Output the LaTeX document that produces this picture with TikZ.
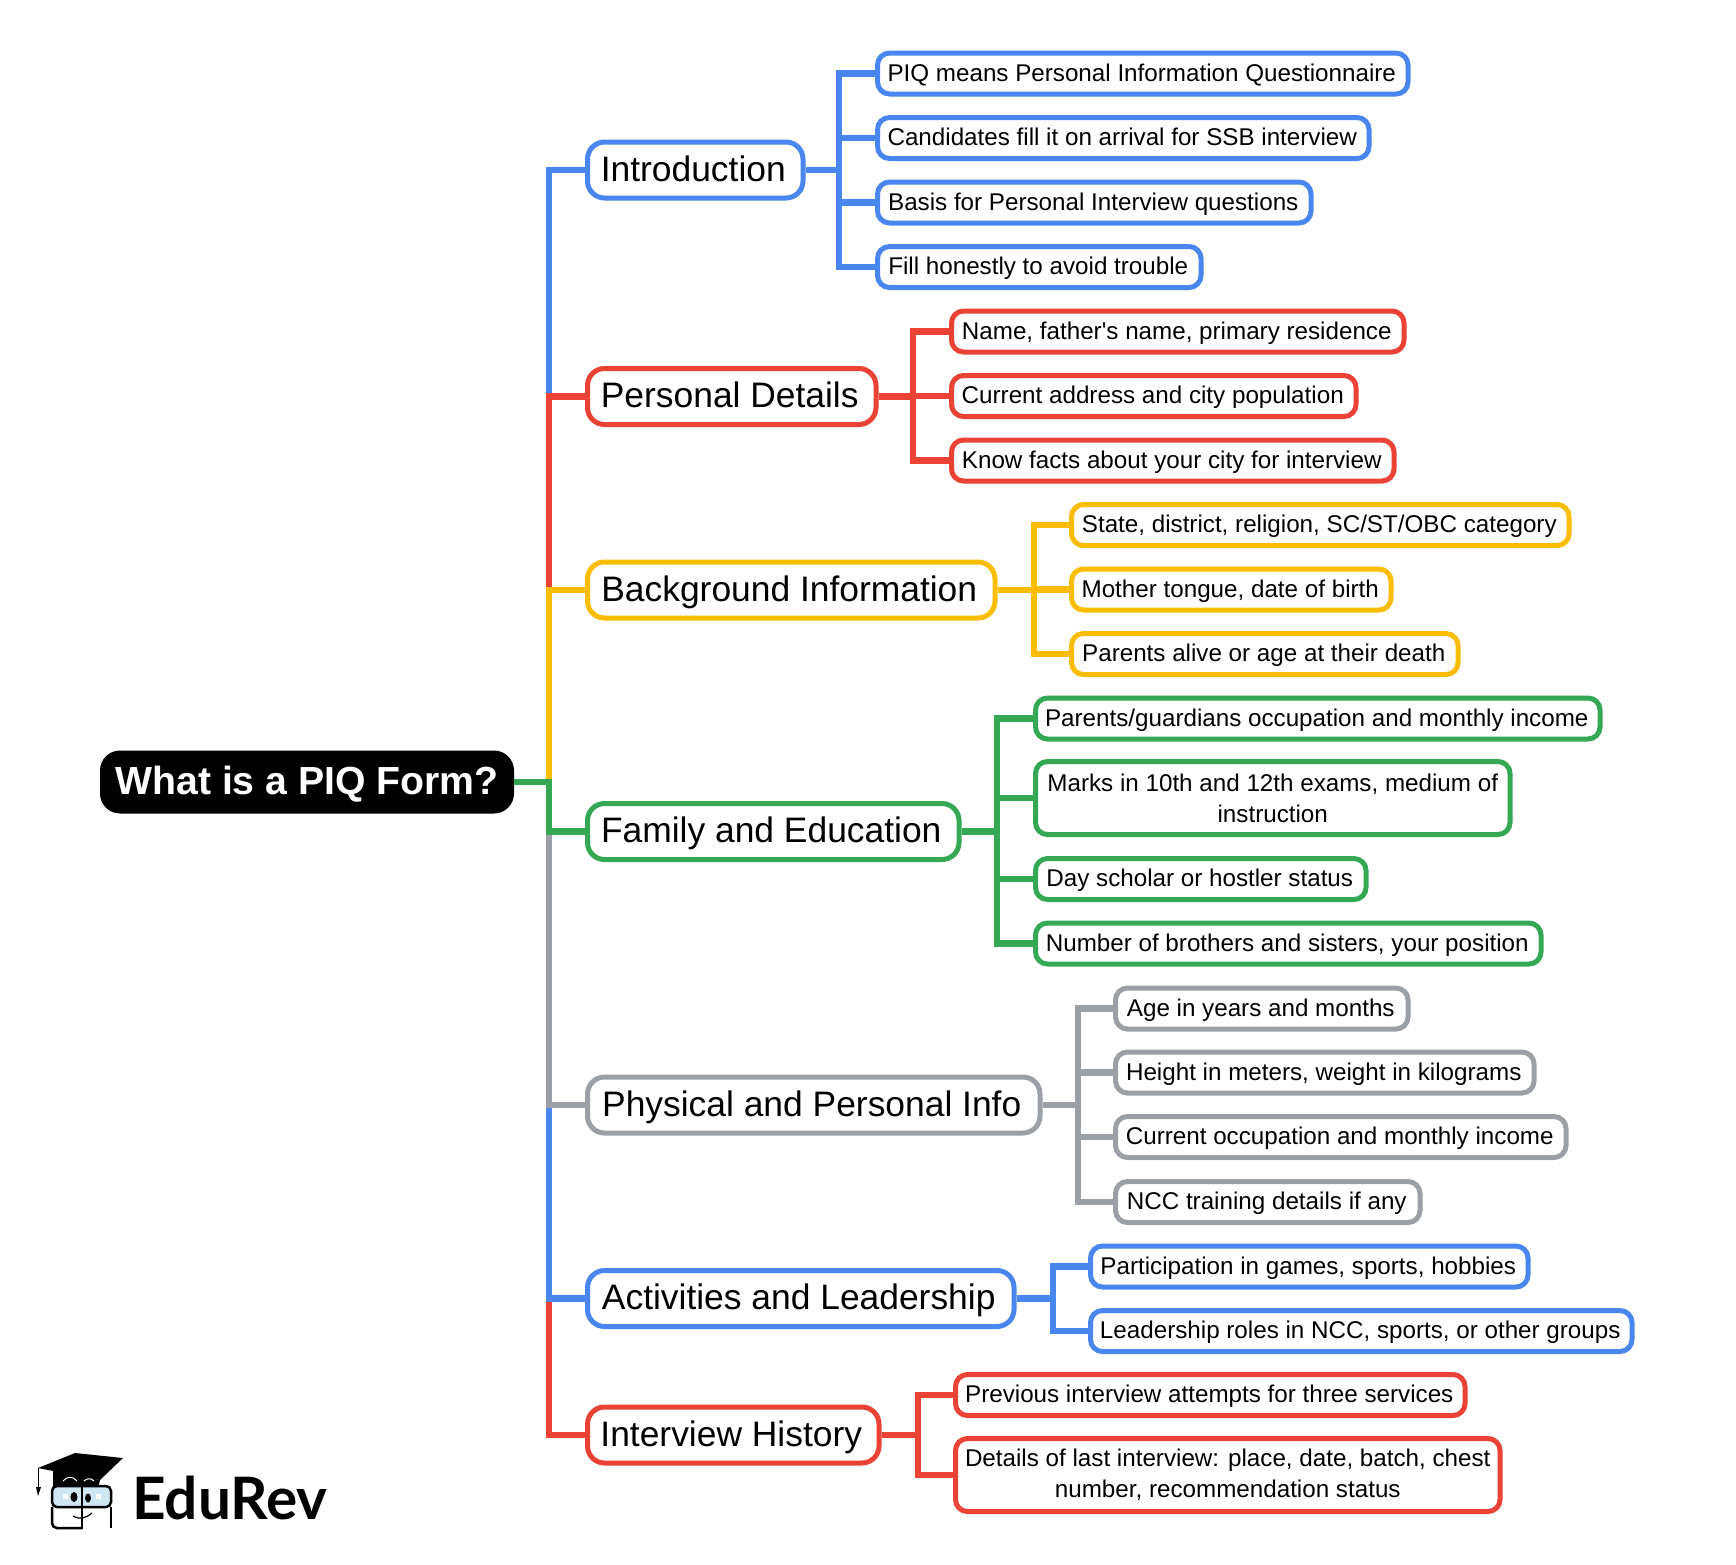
\documentclass[tikz,border=0pt]{standalone}
\usepackage{fontspec}
\setmainfont{Liberation Sans}
\newfontfamily\logofont{Lato}
\usetikzlibrary{shapes}

\definecolor{mapblue}{HTML}{4A86F0}
\definecolor{mapred}{HTML}{EA4335}
\definecolor{mapyellow}{HTML}{FBBC04}
\definecolor{mapgreen}{HTML}{34A853}
\definecolor{mapgray}{HTML}{9AA0A6}
\definecolor{logoglass}{HTML}{CFE6F5}

\tikzset{
    rootbox/.style={rectangle, rounded corners=20pt, fill=black, text=white, inner sep=0pt,
        minimum width=414pt, minimum height=63pt, text height=32pt, text depth=6.4pt,
        font=\fontsize{39.2}{46}\selectfont\bfseries},
    branchbox/.style={rectangle, rounded corners=17pt, draw=#1, fill=white, line width=5pt, inner sep=0pt,
        minimum height=56pt, anchor=west, text height=26pt, text depth=4pt,
        execute at end node={\hspace{4pt}}, font=\fontsize{35.4}{42}\selectfont},
    leafbase/.style={rectangle, rounded corners=12pt, draw=#1, fill=white, line width=5pt, inner sep=0pt,
        minimum height=41pt, anchor=west, align=center, font=\fontsize{24.2}{31}\selectfont},
    leafbox/.style={leafbase=#1, text height=20pt, text depth=5pt, execute at end node={\hspace{2pt}}},
    wire/.style={draw=#1, line width=6.5pt},
}

\begin{document}
\begin{tikzpicture}[x=1pt,y=-1pt]
    \useasboundingbox (0,0) rectangle (1736,1564);

    \node [rootbox] (root) at (307,782) {What is a PIQ Form?};
    \coordinate (trunk) at (549,782);

    % branches
    \node [branchbox=mapblue, minimum width=215.5pt] (intro) at (585,170) {Introduction};
    \node [branchbox=mapred, minimum width=288.5pt] (personal) at (585,396.5) {Personal Details};
    \node [branchbox=mapyellow, minimum width=407.5pt] (background) at (585,590) {Background Information};
    \node [branchbox=mapgreen, minimum width=371.5pt] (family) at (585,831.5) {Family and Education};
    \node [branchbox=mapgray, minimum width=452.5pt] (physical) at (585,1105) {Physical and Personal Info};
    \node [branchbox=mapblue, minimum width=426.5pt] (activities) at (585,1298.5) {Activities and Leadership};
    \node [branchbox=mapred, minimum width=291.5pt] (history) at (585,1435) {Interview History};

    % leaves
    \node [leafbox=mapblue, minimum width=530.5pt] (piq) at (875,73.5) {PIQ means Personal Information Questionnaire};
    \node [leafbox=mapblue, minimum width=491.5pt] (arrival) at (875,138) {Candidates fill it on arrival for SSB interview};
    \node [leafbox=mapblue, minimum width=433.5pt] (basis) at (875,202.5) {Basis for Personal Interview questions};
    \node [leafbox=mapblue, minimum width=323.5pt] (honest) at (875,267) {Fill honestly to avoid trouble};

    \node [leafbox=mapred, minimum width=452.5pt] (name) at (949,331.5) {Name, father\textquotesingle s name, primary residence};
    \node [leafbox=mapred, minimum width=404.5pt] (address) at (949,396) {Current address and city population};
    \node [leafbox=mapred, minimum width=442.5pt] (facts) at (949,460.5) {Know facts about your city for interview};

    \node [leafbox=mapyellow, minimum width=497.5pt] (state) at (1069,525) {State, district, religion, SC/ST/OBC category};
    \node [leafbox=mapyellow, minimum width=319.5pt] (tongue) at (1069,589.5) {Mother tongue, date of birth};
    \node [leafbox=mapyellow, minimum width=386.5pt] (parents) at (1069,654) {Parents alive or age at their death};

    \node [leafbox=mapgreen, minimum width=564.5pt] (income) at (1033,718.5) {Parents/guardians occupation and monthly income};
    \node [leafbase=mapgreen, minimum width=474.5pt, minimum height=73pt] (marks) at (1033,798) {Marks in 10th and 12th exams, medium of\\instruction};
    \node [leafbox=mapgreen, minimum width=330.5pt] (scholar) at (1033,879) {Day scholar or hostler status};
    \node [leafbox=mapgreen, minimum width=505.5pt] (siblings) at (1033,943.5) {Number of brothers and sisters, your position};

    \node [leafbox=mapgray, minimum width=292.5pt] (age) at (1113,1008.5) {Age in years and months};
    \node [leafbox=mapgray, minimum width=418.5pt] (height) at (1113,1072.5) {Height in meters, weight in kilograms};
    \node [leafbox=mapgray, minimum width=450.5pt] (occupation) at (1113,1137) {Current occupation and monthly income};
    \node [leafbox=mapgray, minimum width=304.5pt] (ncc) at (1113,1202) {NCC training details if any};

    \node [leafbox=mapblue, minimum width=437.5pt] (games) at (1088,1266.5) {Participation in games, sports, hobbies};
    \node [leafbox=mapblue, minimum width=541.5pt] (roles) at (1088,1331) {Leadership roles in NCC, sports, or other groups};

    \node [leafbox=mapred, minimum width=509.5pt] (attempts) at (953,1395) {Previous interview attempts for three services};
    \node [leafbase=mapred, minimum width=544.5pt, minimum height=73pt] (last) at (953,1475) {Details of last interview: place, date, batch, chest\\number, recommendation status};

    % trunk, the green one last so that it stays on top
    \draw [wire=mapblue] (root.east) -- (trunk) |- (intro.west);
    \draw [wire=mapred] (root.east) -- (trunk) |- (personal.west);
    \draw [wire=mapyellow] (root.east) -- (trunk) |- (background.west);
    \draw [wire=mapred] (root.east) -- (trunk) |- (history.west);
    \draw [wire=mapblue] (root.east) -- (trunk) |- (activities.west);
    \draw [wire=mapgray] (root.east) -- (trunk) |- (physical.west);
    \draw [wire=mapgreen] (root.east) -- (trunk) |- (family.west);

    % buses
    \coordinate (introbus) at (839,170);
    \draw [wire=mapblue] (intro.east) -- (introbus) |- (piq.west);
    \draw [wire=mapblue] (introbus) |- (arrival.west);
    \draw [wire=mapblue] (introbus) |- (basis.west);
    \draw [wire=mapblue] (introbus) |- (honest.west);

    \coordinate (personalbus) at (913,396.5);
    \draw [wire=mapred] (personal.east) -- (personalbus) |- (name.west);
    \draw [wire=mapred] (personalbus) |- (address.west);
    \draw [wire=mapred] (personalbus) |- (facts.west);

    \coordinate (backgroundbus) at (1034,590);
    \draw [wire=mapyellow] (background.east) -- (backgroundbus) |- (state.west);
    \draw [wire=mapyellow] (backgroundbus) |- (tongue.west);
    \draw [wire=mapyellow] (backgroundbus) |- (parents.west);

    \coordinate (familybus) at (997,831.5);
    \draw [wire=mapgreen] (family.east) -- (familybus) |- (income.west);
    \draw [wire=mapgreen] (familybus) |- (marks.west);
    \draw [wire=mapgreen] (familybus) |- (scholar.west);
    \draw [wire=mapgreen] (familybus) |- (siblings.west);

    \coordinate (physicalbus) at (1078,1105);
    \draw [wire=mapgray] (physical.east) -- (physicalbus) |- (age.west);
    \draw [wire=mapgray] (physicalbus) |- (height.west);
    \draw [wire=mapgray] (physicalbus) |- (occupation.west);
    \draw [wire=mapgray] (physicalbus) |- (ncc.west);

    \coordinate (activitiesbus) at (1053,1298.5);
    \draw [wire=mapblue] (activities.east) -- (activitiesbus) |- (games.west);
    \draw [wire=mapblue] (activitiesbus) |- (roles.west);

    \coordinate (historybus) at (918,1435);
    \draw [wire=mapred] (history.east) -- (historybus) |- (attempts.west);
    \draw [wire=mapred] (historybus) |- (last.west);

    % logo
    \node [anchor=base west, inner sep=0pt, font=\fontsize{58.5}{62}\logofont\bfseries] (logotext) at (132,1519) {EduRev};
    \fill [black] (53,1470) -- (53,1488) -- (98,1488) -- (100,1480) -- cycle;
    \fill [black] (38,1468) -- (75,1453) -- (123,1458) -- (100,1480) -- cycle;
    \draw [black, line width=1pt] (38,1468) -- (38,1487);
    \fill [black] (36,1487) -- (41,1487) -- (38,1496) -- cycle;
    \draw [white, line width=1pt] (63,1481) .. controls (67,1476) and (73,1476) .. (77,1481);
    \draw [white, line width=1pt] (84,1481) .. controls (87,1478) and (91,1478) .. (94,1481);
    \draw [black, line width=2.5pt, rounded corners=5pt, fill=logoglass] (52,1486) rectangle (111,1507);
    \draw [black, line width=2.5pt, rounded corners=5pt] (52,1507) -- (52,1528) -- (82,1528);
    \draw [black, line width=2.5pt, rounded corners=5pt] (111,1507) -- (111,1528);
    \draw [black, line width=2.5pt] (82,1484) -- (82,1529);
    \fill [white] (63,1494) rectangle (68,1499);
    \fill [white] (96,1494) rectangle (101,1499);
    \fill [black] (74,1497) ellipse (3.5 and 5);
    \fill [black] (88,1498) ellipse (3 and 4.5);
    \draw [black, line width=1.2pt] (73,1516) .. controls (80,1520) and (86,1518) .. (92,1513);
\end{tikzpicture}
\end{document}
